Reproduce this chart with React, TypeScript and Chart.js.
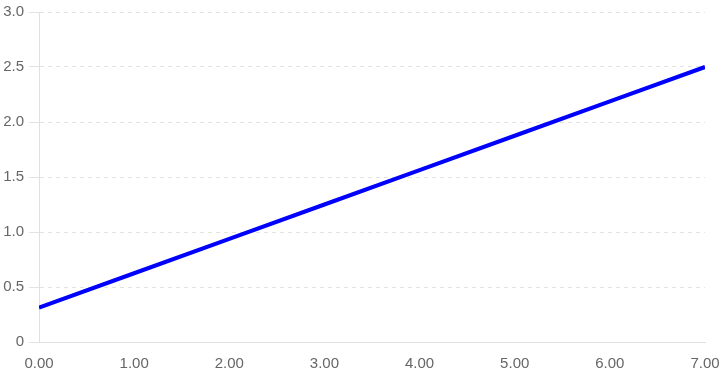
import React, { useEffect, useRef } from "react";
import { Chart, registerables } from "chart.js";
Chart.register(...registerables);

const xValues = [0, 1, 2, 3, 4, 5, 6, 7];
const yValues = [0.3125, 0.625, 0.9375, 1.25, 1.5625, 1.875, 2.1875, 2.5];

export default function App() {
  const ref = useRef<HTMLCanvasElement>(null);
  useEffect(() => {
    document.body.style.margin = "0";
    const chart = new Chart(ref.current!, {
      type: "line",
      data: {
        datasets: [
          {
            data: xValues.map((x, i) => ({ x, y: yValues[i] })),
            borderColor: "#0000ff",
            borderWidth: 4,
            pointRadius: 0,
            fill: false,
            tension: 0,
          },
        ],
      },
      options: {
        animation: false,
        responsive: false,
        layout: { padding: { top: 12, right: 21, left: 0, bottom: 0 } },
        plugins: { legend: { display: false }, tooltip: { enabled: false } },
        scales: {
          x: {
            type: "linear",
            min: 0,
            max: 7,
            grid: { display: false, drawTicks: false },
            border: { display: true, color: "#e0e0e0" },
            afterFit: (s: any) => {
              s.height = 35;
              s.paddingLeft = 0;
              s.paddingRight = 0;
            },
            ticks: {
              stepSize: 1,
              color: "#666",
              padding: 13,
              font: { family: "Liberation Sans, Arial", size: 15 },
              callback: (v: any) => Number(v).toFixed(2),
            },
          },
          y: {
            min: 0,
            max: 3,
            grid: { color: "#e3e3e3", drawTicks: true, tickLength: 10 },
            border: { display: true, color: "#e0e0e0", dash: [4, 4] },
            afterFit: (s: any) => {
              s.width = 39;
              s.paddingTop = 0;
              s.paddingBottom = 0;
            },
            ticks: {
              stepSize: 0.5,
              color: "#666",
              padding: 5,
              font: { family: "Liberation Sans, Arial", size: 15 },
              callback: (v: any) => (Number(v) === 0 ? "0" : Number(v).toFixed(1)),
            },
          },
        },
      },
    });
    return () => chart.destroy();
  }, []);
  return (
    <div style={{ width: 726, height: 377 }}>
      <canvas ref={ref} width={726} height={377} style={{ display: "block" }} />
    </div>
  );
}
